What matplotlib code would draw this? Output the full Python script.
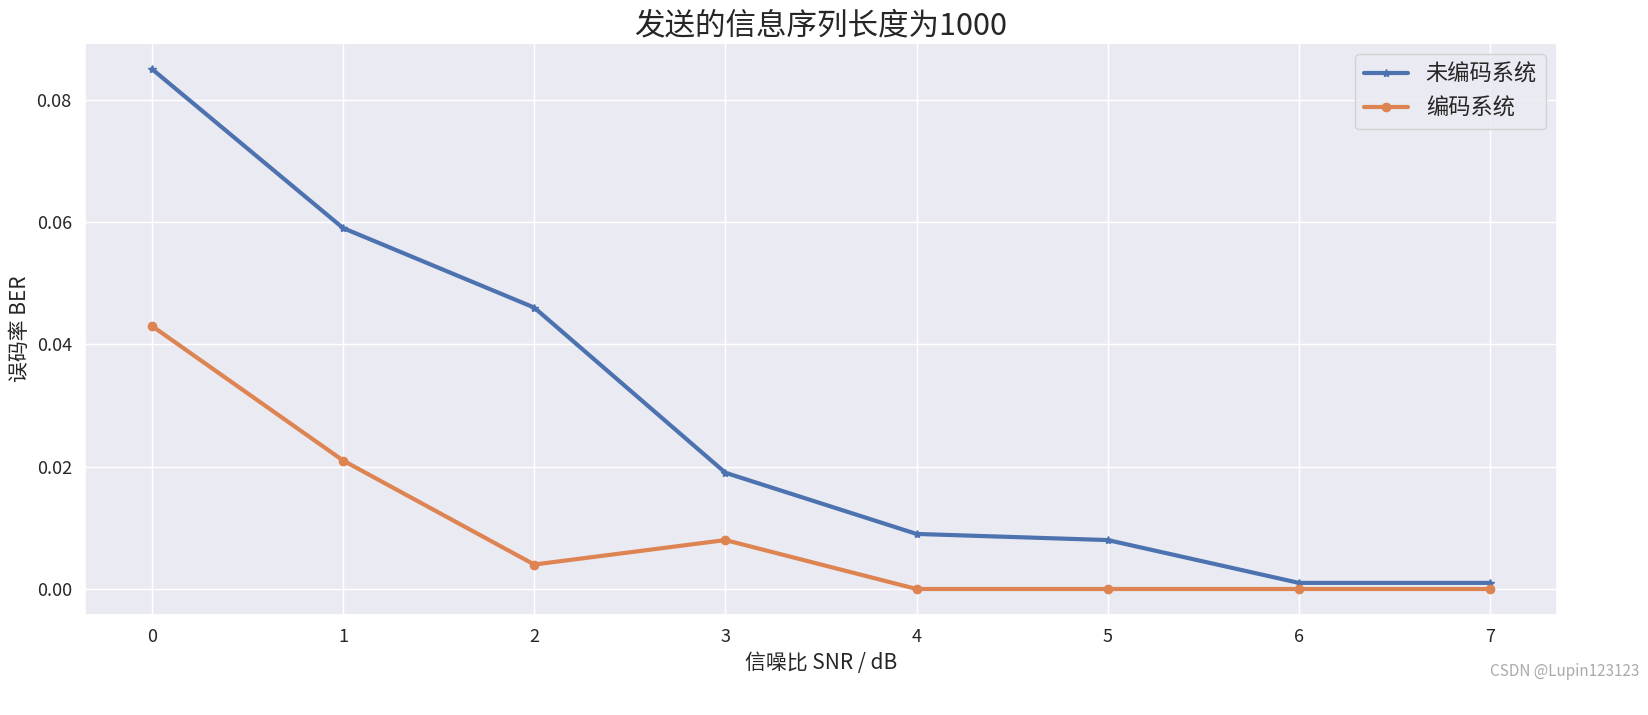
import matplotlib
matplotlib.use("Agg")
import matplotlib.pyplot as plt
import seaborn as sns

snr = [0, 1, 2, 3, 4, 5, 6, 7]
ber_uncoded = [0.085, 0.059, 0.046, 0.019, 0.009, 0.008, 0.001, 0.001]
ber_coded = [0.043, 0.021, 0.004, 0.008, 0.0, 0.0, 0.0, 0.0]

sns.set_theme(style="darkgrid")
plt.rcParams['font.family'] = ['Noto Sans CJK SC', 'DejaVu Sans']
plt.rcParams['axes.unicode_minus'] = False

fig = plt.figure(figsize=(16.48, 7.15), dpi=100)
ax = fig.add_axes([85/1648, 100/715, 1472/1648, 572/715])
ax.plot(snr, ber_uncoded, marker='*', lw=3, color='#4c72b0', label='未编码系统')
ax.plot(snr, ber_coded, marker='o', lw=3, color='#dd8452', label='编码系统')
ax.set_title('发送的信息序列长度为1000', fontsize=22)
ax.set_xlabel('信噪比 SNR / dB', fontsize=15)
ax.set_ylabel('误码率 BER', fontsize=15)
ax.tick_params(labelsize=13)
ax.set_yticks([0.0, 0.02, 0.04, 0.06, 0.08])
ax.set_yticklabels(['0.00', '0.02', '0.04', '0.06', '0.08'])
ax.legend(fontsize=16, loc='upper right')
fig.text(0.995, 0.055, 'CSDN @Lupin123123', ha='right', fontsize=11, color='#aaaaaa')
fig.savefig('out.png', dpi=100)
